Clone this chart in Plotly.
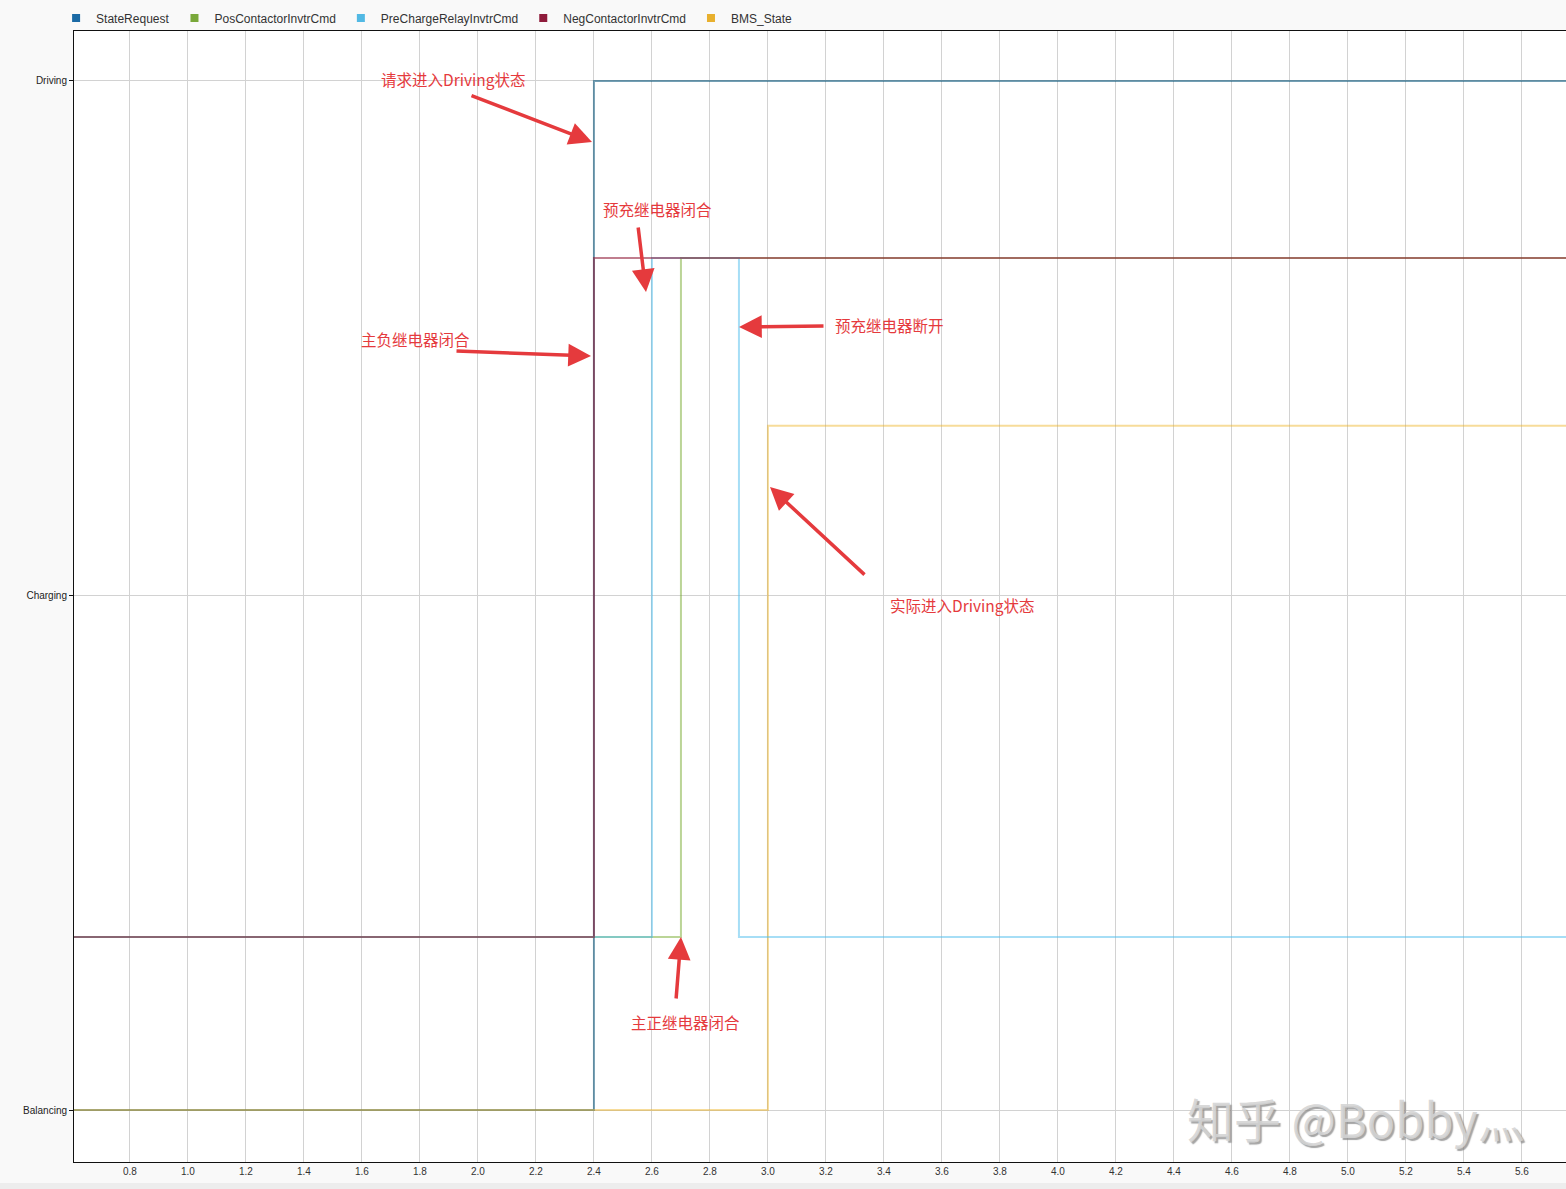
import plotly.graph_objects as go

# ---------------- data ----------------
series_names = ["StateRequest", "PosContactorInvtrCmd", "PreChargeRelayInvtrCmd",
                "NegContactorInvtrCmd", "BMS_State"]

# enum-axis signals (Balancing=0, Charging=1, Driving=2 on the display axis)
state_labels = ["Balancing", "Charging", "Driving"]
state_levels = [0, 1, 2]

t_state_request = [0.6, 2.4, 5.8]
v_state_request = [0, 2, 2]

t_bms_state = [0.6, 3.0, 5.8]
v_bms_state = [0, 1.33, 1.33]

# relay commands (0 / 1, drawn on an overlaid axis)
t_pos = [0.6, 2.7, 5.8]
v_pos = [0, 1, 1]

t_pre = [0.6, 2.6, 2.9, 5.8]
v_pre = [0, 1, 0, 0]

t_neg = [0.6, 2.4, 5.8]
v_neg = [0, 1, 1]

legend_colors = ["#1b6aa5", "#79a83a", "#52b9e4", "#8e1b3b", "#e8b02e"]
line_colors = ["rgba(0,80,118,0.55)", "rgba(119,172,48,0.5)", "rgba(77,190,238,0.5)",
               "rgba(140,20,50,0.55)", "rgba(237,177,32,0.45)"]

notes = ["请求进入Driving状态", "预充继电器闭合", "主负继电器闭合",
         "预充继电器断开", "实际进入Driving状态", "主正继电器闭合"]

# ---------------- layout helpers (pixel -> axis units, for annotation placement) ----------------
W, H = 1566, 1189
L, R, T, B = 74, 0, 31, 27
X0, X1 = 0.607, 5.752
Y0, Y1 = -0.101, 2.097
Y2_0, Y2_1 = -0.3314, 1.3343


def px2x(px):
    return X0 + (px - L) / (W - L - R) * (X1 - X0)


def py2y(py):
    return Y1 - (py - T) / (H - T - B) * (Y1 - Y0)


fig = go.Figure()

data = [
    (t_state_request, v_state_request, "y"),
    (t_pos, v_pos, "y2"),
    (t_pre, v_pre, "y2"),
    (t_neg, v_neg, "y2"),
    (t_bms_state, v_bms_state, "y"),
]
for name, (t, v, ax), lc in zip(series_names, data, line_colors):
    fig.add_trace(go.Scatter(x=t, y=v, yaxis=ax, mode="lines", line_shape="hv",
                             line=dict(color=lc, width=2), name=name,
                             showlegend=False, hoverinfo="skip"))

# legend entries as small squares
for name, c in zip(series_names, legend_colors):
    fig.add_trace(go.Scatter(x=[None], y=[None], mode="markers", name=name,
                             marker=dict(symbol="square", size=8, color=c)))

red = "#e53a3d"
cjk = "Noto Sans CJK SC, sans-serif"
text_pos = [(453, 79), (657, 209), (415, 339), (889, 325), (962, 605), (685, 1022)]
arrows = [((470, 95), (592, 142)), ((638, 226), (646, 292)), ((455, 351), (591, 356)),
          ((825, 326), (739, 327)), ((866, 576), (770, 487)), ((676, 1000), (681, 937))]

annotations = []
for txt, (px, py) in zip(notes, text_pos):
    annotations.append(dict(x=px2x(px), y=py2y(py), xref="x", yref="y", text=txt,
                            showarrow=False, font=dict(family=cjk, size=15.5, color=red),
                            xanchor="center", yanchor="middle"))
for (tail, head) in arrows:
    annotations.append(dict(x=px2x(head[0]), y=py2y(head[1]), ax=px2x(tail[0]), ay=py2y(tail[1]),
                            xref="x", yref="y", axref="x", ayref="y", text="",
                            showarrow=True, arrowhead=2, arrowsize=1.3, arrowwidth=3.5,
                            arrowcolor=red, standoff=0, startstandoff=0))

# watermark
annotations.append(dict(x=px2x(1356), y=py2y(1117), xref="x", yref="y", text="知乎 @Bobby灬",
                        showarrow=False,
                        font=dict(family=cjk, size=47, color="rgba(212,212,212,0.9)",
                                  shadow="2px 2px 1px rgba(130,130,130,0.8)"),
                        xanchor="center", yanchor="middle"))

fig.update_layout(
    width=W, height=H, autosize=False,
    margin=dict(l=L, r=R, t=T, b=B, pad=0),
    paper_bgcolor="#f9f9f9", plot_bgcolor="#ffffff",
    font=dict(family="Liberation Sans, Arial, sans-serif", size=10, color="#222222"),
    showlegend=True,
    legend=dict(orientation="h", x=-0.012, xanchor="left", y=1.0115, yanchor="middle",
                font=dict(size=12, color="#333333"), bgcolor="rgba(0,0,0,0)",
                itemwidth=30, tracegroupgap=0),
    xaxis=dict(range=[X0, X1], tick0=0.8, dtick=0.2, tickformat=".1f",
               showgrid=True, gridcolor="#d2d2d2", gridwidth=1, zeroline=False,
               showline=True, linecolor="#111111", linewidth=1, mirror=True,
               ticks="", tickfont=dict(size=10, color="#333333")),
    yaxis=dict(range=[Y0, Y1], tickvals=state_levels, ticktext=state_labels,
               showgrid=True, gridcolor="#d2d2d2", gridwidth=1, zeroline=False,
               showline=True, linecolor="#111111", linewidth=1,
               ticks="outside", ticklen=4, tickcolor="#111111",
               tickfont=dict(size=10, color="#222222")),
    yaxis2=dict(range=[Y2_0, Y2_1], overlaying="y", visible=False),
    annotations=annotations,
    shapes=[dict(type="rect", xref="paper", yref="paper", x0=-0.06, x1=1.0,
                 y0=-27 / 1131, y1=-21 / 1131, fillcolor="#ededed",
                 line=dict(width=0), layer="below")],
)

fig.write_html("out.html", config={"displayModeBar": False},
               post_script="document.body.style.margin='0';")
